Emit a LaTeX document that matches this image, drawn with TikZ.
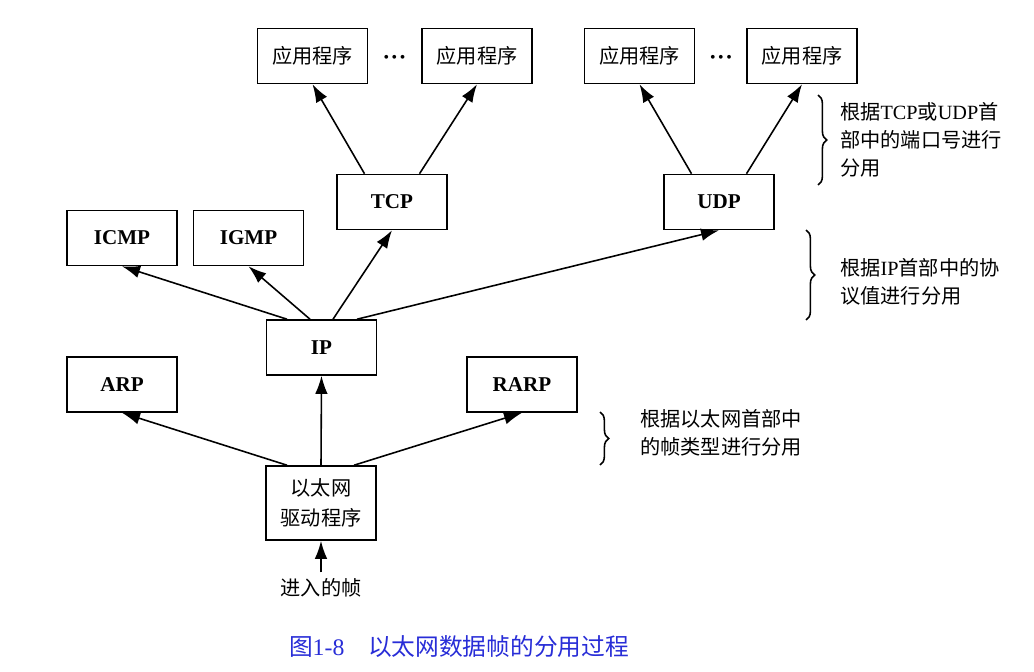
\documentclass[tikz,border=0pt]{standalone}
\usepackage{fontspec}
\setmainfont{Liberation Serif}
\newfontfamily\zhfont{Noto Sans CJK SC}
\newcommand\lat[1]{{\rmfamily #1}}
\usetikzlibrary{arrows.meta,decorations.pathreplacing}
\definecolor{azul}{RGB}{40,45,215}

\begin{document}
\begin{tikzpicture}[x=0.02cm, y=-0.02cm,
    caja/.style={
        draw,
        line width=0.9pt,
        minimum width=2.2cm,
        minimum height=1.1cm,
        inner sep=0pt,
        align=center
    },
    proto/.style={
        caja,
        font=\bfseries\fontsize{12}{14}\selectfont
    },
    app/.style={
        caja,
        font=\zhfont\fontsize{11.5}{17}\selectfont
    },
    flecha/.style={
        -{Latex[length=3.6mm,width=2.5mm]},
        line width=0.9pt
    },
    llave/.style={
        decorate,
        decoration={brace,amplitude=5pt},
        line width=0.9pt
    },
    nota/.style={
        anchor=west,
        align=left,
        font=\zhfont\fontsize{11.5}{16}\selectfont
    },
    puntos/.style={
        font=\fontsize{9}{10}\selectfont
    }
]

\useasboundingbox (0,0) rectangle (1034,672);

%------------------------------------------------
% Aplicaciones
%------------------------------------------------
\foreach \n/\x in {app1/312.5,app2/477,app3/639.5,app4/802} {
    \node[app] (\n) at (\x,56) {应用程序};
}
\node[puntos] (dots1) at (394.5,59) {•\,•\,•};
\node[puntos] (dots2) at (721,59) {•\,•\,•};

%------------------------------------------------
% Protocolos
%------------------------------------------------
\node[proto] (tcp) at (392,202) {TCP};
\node[proto] (udp) at (719,202) {UDP};
\node[proto] (icmp) at (122,238) {ICMP};
\node[proto] (igmp) at (248.5,238) {IGMP};
\node[proto] (ip) at (321.5,347.5) {IP};
\node[proto] (arp) at (122,384.5) {ARP};
\node[proto] (rarp) at (522,384.5) {RARP};

% controlador
\node[app, minimum height=1.48cm] (driver) at (321,503) {以太网\\驱动程序};
\node[font=\zhfont\fontsize{11.5}{14}\selectfont] (frame) at (321,588) {进入的帧};

%------------------------------------------------
% Flechas
%------------------------------------------------
\foreach \src/\dx/\dst in {tcp/-0.55/app1, tcp/0.55/app2,
                          udp/-0.55/app3, udp/0.55/app4,
                          ip/-0.69/icmp, ip/-0.23/igmp, ip/0.23/tcp, ip/0.71/udp,
                          driver/-0.68/arp, driver/0/ip, driver/0.66/rarp} {
    \draw[flecha] ([xshift=\dx cm]\src.north) -- (\dst.south);
}
\draw[flecha] (frame.north) -- (driver.south);

%------------------------------------------------
% Llaves y notas
%------------------------------------------------
\draw[llave] (818,95) -- (818,185);
\node[nota] (nota1) at (834,140) {根据\lat{TCP}或\lat{UDP}首\\部中的端口号进行\\分用};

\draw[llave] (806,230) -- (806,320);
\node[nota] (nota2) at (834,282) {根据\lat{IP}首部中的协\\议值进行分用};

\draw[llave] (600,412) -- (600,465);
\node[nota] (nota3) at (634,433) {根据以太网首部中\\的帧类型进行分用};

% titulo
\node[font=\zhfont\fontsize{13.5}{16}\selectfont, text=azul] (titulo) at (459,647)
    {图\lat{1-8}\quad 以太网数据帧的分用过程};

\end{tikzpicture}
\end{document}
